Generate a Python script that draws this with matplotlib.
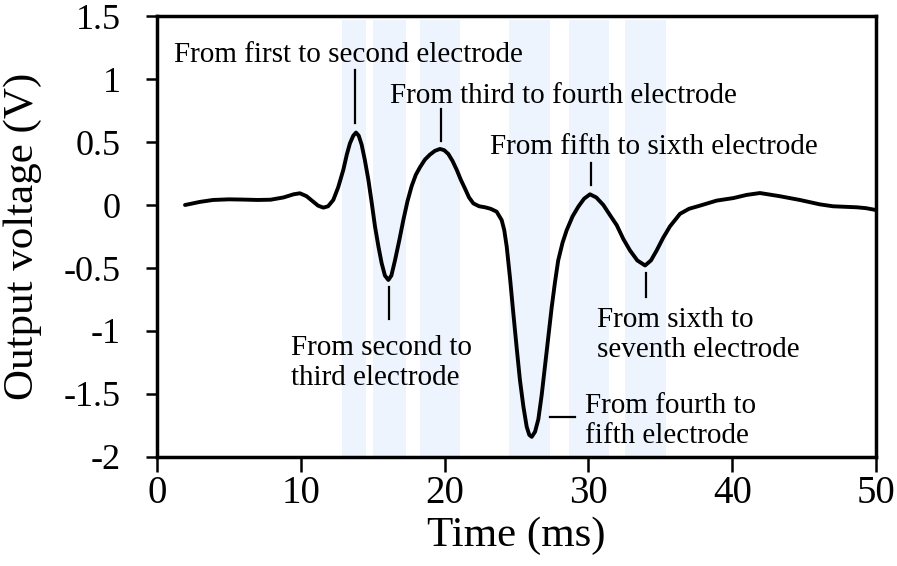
import matplotlib
matplotlib.use('Agg')
import matplotlib.pyplot as plt

plt.rcParams['font.family'] = ['Liberation Serif', 'DejaVu Serif']
plt.rcParams['axes.unicode_minus'] = False

# Output voltage trace
time_ms = [1.95, 3.0, 3.9, 5.0, 6.0, 7.0, 7.9, 8.8, 9.5, 9.94,
           10.4, 10.87, 11.2, 11.57, 11.9, 12.26, 12.6, 12.96, 13.2, 13.42,
           13.65, 13.84, 14.03, 14.23, 14.45, 14.7, 14.93, 15.16, 15.4, 15.62,
           15.85, 16.09, 16.3, 16.55, 16.85, 17.13, 17.42, 17.71, 18.0, 18.29,
           18.63, 18.98, 19.33, 19.68, 19.97, 20.26, 20.55, 20.84, 21.13, 21.42,
           21.7, 22.0, 22.4, 22.81, 23.2, 23.62, 23.97, 24.15, 24.32, 24.55,
           24.78, 25.01, 25.24, 25.48, 25.71, 25.89, 26.06, 26.29, 26.52, 26.75,
           26.98, 27.22, 27.45, 27.68, 27.9, 28.2, 28.49, 28.9, 29.3, 29.7,
           30.11, 30.55, 31.04, 31.5, 31.97, 32.43, 32.89, 33.4, 33.94, 34.35,
           34.75, 35.2, 35.67, 36.37, 37.0, 37.76, 38.92, 40.08, 41.0, 41.93,
           43.3, 44.7, 46.1, 47.0, 48.0, 48.65, 49.3, 50.0]
voltage = [0.0, 0.025, 0.04, 0.045, 0.043, 0.04, 0.042, 0.06, 0.085, 0.093,
           0.07, 0.026, -0.005, -0.021, -0.01, 0.04, 0.14, 0.28, 0.40, 0.49,
           0.55, 0.575, 0.55, 0.48, 0.36, 0.20, 0.02, -0.17, -0.33, -0.46,
           -0.56, -0.595, -0.56, -0.44, -0.28, -0.12, 0.03, 0.15, 0.24, 0.30,
           0.36, 0.40, 0.43, 0.445, 0.435, 0.405, 0.35, 0.28, 0.20, 0.13,
           0.06, 0.013, -0.01, -0.018, -0.03, -0.053, -0.12, -0.2, -0.33, -0.58,
           -0.86, -1.13, -1.39, -1.60, -1.76, -1.825, -1.84, -1.80, -1.70, -1.51,
           -1.28, -1.04, -0.81, -0.61, -0.44, -0.30, -0.20, -0.09, -0.013, 0.05,
           0.085, 0.06, 0.0, -0.08, -0.16, -0.27, -0.36, -0.44, -0.48, -0.44,
           -0.36, -0.26, -0.17, -0.07, -0.03, -0.005, 0.035, 0.055, 0.08, 0.095,
           0.07, 0.04, 0.005, -0.01, -0.015, -0.018, -0.025, -0.04]

# shaded electrode windows (ms)
band_start = [12.9, 15.0, 18.3, 24.5, 28.65, 32.55]
band_end = [14.55, 17.3, 21.1, 27.35, 31.45, 35.4]

# annotation labels and their pointer ticks (y = baseline of the last line)
labels = ['From first to second electrode',
          'From second to\nthird electrode',
          'From third to fourth electrode',
          'From fourth to\nfifth electrode',
          'From fifth to sixth electrode',
          'From sixth to\nseventh electrode']
label_x = [1.18, 9.3, 16.2, 29.76, 23.16, 30.57]
label_y = [1.135, -1.43, 0.807, -1.89, 0.402, -1.204]

vtick_x = [13.77, 16.16, 19.73, 30.16, 34.0]
vtick_y0 = [1.07, -0.653, 0.76, 0.336, -0.542]
vtick_y1 = [0.653, -0.907, 0.51, 0.159, -0.728]
htick_x0, htick_x1, htick_y = 27.33, 29.07, -1.68

xticks = [0, 10, 20, 30, 40, 50]
yticks = [-2, -1.5, -1, -0.5, 0, 0.5, 1, 1.5]
ytick_labels = ['-2', '-1.5', '-1', '-0.5', '0', '0.5', '1', '1.5']

fig = plt.figure(figsize=(8.97, 5.66), dpi=100)
ax = fig.add_axes([0.175, 0.1926, 0.8016, 0.7791])

for s, e in zip(band_start, band_end):
    ax.axvspan(s, e, ymin=0, ymax=0.992, color='#EEF4FD', lw=0, zorder=0)

ax.plot(time_ms, voltage, color='black', lw=2.8, solid_joinstyle='round',
        solid_capstyle='round', zorder=3)

for x, y0, y1 in zip(vtick_x, vtick_y0, vtick_y1):
    ax.plot([x, x], [y0, y1], color='black', lw=1.6)
ax.plot([htick_x0, htick_x1], [htick_y, htick_y], color='black', lw=1.6)

for txt, x, y in zip(labels, label_x, label_y):
    ax.text(x, y, txt, fontsize=21, ha='left', va='baseline', linespacing=1.2)

ax.set_xlim(0, 50)
ax.set_ylim(-2, 1.5)
ax.set_xticks(xticks)
ax.set_yticks(yticks)
ax.set_yticklabels(ytick_labels)

for sp in ax.spines.values():
    sp.set_linewidth(2.5)
ax.tick_params(axis='x', direction='out', length=11, width=1.8, labelsize=28, pad=2)
ax.tick_params(axis='y', direction='out', length=8, width=1.8, labelsize=26, pad=18)

ax.set_xlabel('Time (ms)', fontsize=31)
ax.set_ylabel('Output voltage (V)', fontsize=31)
ax.xaxis.set_label_coords(0.5, -0.135)
ax.yaxis.set_label_coords(-0.16, 0.5)

fig.savefig('out.png', dpi=100)
